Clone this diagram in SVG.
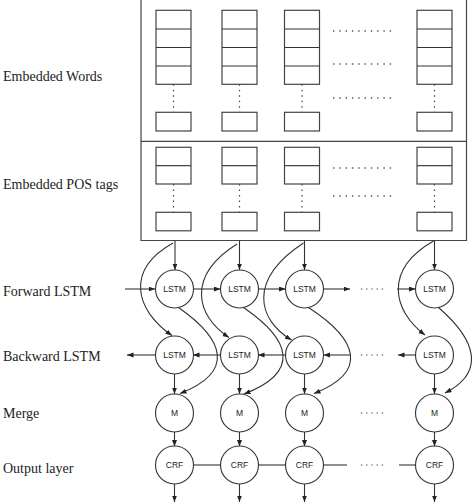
<svg xmlns="http://www.w3.org/2000/svg" width="474" height="504" viewBox="0 0 474 504">
<style>
.ln{fill:none;stroke:#333;stroke-width:1.1}
.cell{fill:#fff;stroke:#444;stroke-width:1.2}
.dv{fill:none;stroke:#444;stroke-width:1.2;stroke-dasharray:1.5 4}
.dh{fill:none;stroke:#555;stroke-width:1.4;stroke-dasharray:1.4 4.9}
.dr{fill:none;stroke:#777;stroke-width:1.3;stroke-dasharray:1.2 4}
.nd{fill:#fff;stroke:#333;stroke-width:1.1}
.nt{font-family:"Liberation Sans",Arial,sans-serif;font-size:8.5px;fill:#222;text-anchor:middle}
.lb{font-family:"Liberation Serif","Times New Roman",serif;font-size:14px;fill:#222}
.ar{fill:none;stroke:#333;stroke-width:1.1;marker-end:url(#ah)}
</style>
<defs>
<marker id="ah" markerUnits="userSpaceOnUse" markerWidth="7" markerHeight="6" refX="6.5" refY="2.5" orient="auto">
<path d="M0,0 L6.5,2.5 L0,5 z" fill="#222"/>
</marker>
</defs>

<g id="labels">
<text class="lb" x="3" y="81">Embedded Words</text>
<text class="lb" x="3" y="188.5">Embedded POS tags</text>
<text class="lb" x="3" y="296">Forward LSTM</text>
<text class="lb" x="3" y="361">Backward LSTM</text>
<text class="lb" x="3" y="418">Merge</text>
<text class="lb" x="3" y="472.5">Output layer</text>
</g>

<g id="embedding-box">
<line x1="141" y1="0.6" x2="466.5" y2="0.6" stroke="#ccc" stroke-width="1.2"/>
<path d="M141,0 V240.5 H466.5 V0" class="cell" fill="none"/>
<line x1="141" y1="141.3" x2="466.5" y2="141.3" stroke="#444" stroke-width="1.2"/>
</g>

<g id="word-vectors">
<g id="word-col1">
<rect class="cell" x="156" y="10.3" width="35" height="74"/>
<path class="ln" d="M156,29 H191 M156,47.5 H191 M156,66 H191" stroke="#444" stroke-width="1.2"/>
<line class="dv" x1="173.5" y1="84.3" x2="173.5" y2="112.3"/>
<rect class="cell" x="156" y="112.3" width="35" height="18.7"/>
</g>
<g id="word-col2">
<rect class="cell" x="222" y="10.3" width="35" height="74"/>
<path class="ln" d="M222,29 H257 M222,47.5 H257 M222,66 H257" stroke="#444" stroke-width="1.2"/>
<line class="dv" x1="239.5" y1="84.3" x2="239.5" y2="112.3"/>
<rect class="cell" x="222" y="112.3" width="35" height="18.7"/>
</g>
<g id="word-col3">
<rect class="cell" x="284.5" y="10.3" width="35" height="74"/>
<path class="ln" d="M284.5,29 H319.5 M284.5,47.5 H319.5 M284.5,66 H319.5" stroke="#444" stroke-width="1.2"/>
<line class="dv" x1="302" y1="84.3" x2="302" y2="112.3"/>
<rect class="cell" x="284.5" y="112.3" width="35" height="18.7"/>
</g>
<g id="word-col4">
<rect class="cell" x="417" y="10.3" width="35" height="74"/>
<path class="ln" d="M417,29 H452 M417,47.5 H452 M417,66 H452" stroke="#444" stroke-width="1.2"/>
<line class="dv" x1="434.5" y1="84.3" x2="434.5" y2="112.3"/>
<rect class="cell" x="417" y="112.3" width="35" height="18.7"/>
</g>
<line class="dh" x1="333" y1="31" x2="396" y2="31"/>
<line class="dh" x1="333" y1="64" x2="396" y2="64"/>
<line class="dh" x1="333" y1="98" x2="396" y2="98"/>
</g>

<g id="pos-vectors">
<g id="pos-col1">
<rect class="cell" x="156" y="147.3" width="35" height="36.7"/>
<line x1="156" y1="165.7" x2="191" y2="165.7" stroke="#444" stroke-width="1.2"/>
<line class="dv" x1="173.5" y1="184" x2="173.5" y2="212.3"/>
<rect class="cell" x="156" y="212.3" width="35" height="18.5"/>
</g>
<g id="pos-col2">
<rect class="cell" x="222" y="147.3" width="35" height="36.7"/>
<line x1="222" y1="165.7" x2="257" y2="165.7" stroke="#444" stroke-width="1.2"/>
<line class="dv" x1="239.5" y1="184" x2="239.5" y2="212.3"/>
<rect class="cell" x="222" y="212.3" width="35" height="18.5"/>
</g>
<g id="pos-col3">
<rect class="cell" x="284.5" y="147.3" width="35" height="36.7"/>
<line x1="284.5" y1="165.7" x2="319.5" y2="165.7" stroke="#444" stroke-width="1.2"/>
<line class="dv" x1="302" y1="184" x2="302" y2="212.3"/>
<rect class="cell" x="284.5" y="212.3" width="35" height="18.5"/>
</g>
<g id="pos-col4">
<rect class="cell" x="417" y="147.3" width="35" height="36.7"/>
<line x1="417" y1="165.7" x2="452" y2="165.7" stroke="#444" stroke-width="1.2"/>
<line class="dv" x1="434.5" y1="184" x2="434.5" y2="212.3"/>
<rect class="cell" x="417" y="212.3" width="35" height="18.5"/>
</g>
<line class="dh" x1="333" y1="168" x2="396" y2="168"/>
<line class="dh" x1="333" y1="196" x2="396" y2="196"/>
</g>

<g id="connectors">
<!-- box to forward LSTM -->
<line class="ar" x1="175" y1="240.5" x2="175" y2="270"/>
<line class="ar" x1="239.5" y1="240.5" x2="239.5" y2="270"/>
<line class="ar" x1="304.5" y1="240.5" x2="304.5" y2="270"/>
<line class="ar" x1="434.5" y1="240.5" x2="434.5" y2="270"/>
<!-- box to backward LSTM (S curves) -->
<path class="ar" d="M173,243 C125,270 135,310 172,335.5"/>
<path class="ar" d="M237,244 C186,276 196,316 229,337.5"/>
<path class="ar" d="M303.5,243 C247,280 258,320 291.5,340"/>
<path class="ar" d="M433.5,241 C383,270 393,311 425,335"/>
<!-- forward LSTM to merge (S curves) -->
<path class="ar" d="M178.5,307.5 C225,340 235,372 180,393.5"/>
<path class="ar" d="M243.5,307.5 C291,340 301,372 244,394"/>
<path class="ar" d="M308.5,307.5 C358.5,340 368.5,372 314,393.5"/>
<path class="ar" d="M438.5,307.5 C476,340 486,372 445,393"/>
<!-- forward chain -->
<line class="ar" x1="125" y1="289" x2="155" y2="289"/>
<line class="ar" x1="193" y1="289" x2="220.5" y2="289"/>
<line class="ar" x1="258" y1="289" x2="285.5" y2="289"/>
<line class="ar" x1="323" y1="289" x2="350" y2="289"/>
<line class="dr" x1="361" y1="289" x2="384" y2="289"/>
<line class="ar" x1="397" y1="289" x2="415.5" y2="289"/>
<!-- backward chain -->
<line class="ar" x1="155" y1="355" x2="127" y2="355"/>
<line class="ar" x1="220.5" y1="355" x2="193" y2="355"/>
<line class="ar" x1="285.5" y1="355" x2="258" y2="355"/>
<line class="ar" x1="350" y1="355" x2="323.5" y2="355"/>
<line class="dr" x1="361" y1="355" x2="384" y2="355"/>
<line class="ar" x1="415.5" y1="355" x2="398" y2="355"/>
<!-- backward to merge -->
<line class="ar" x1="174.5" y1="374" x2="174.5" y2="394"/>
<line class="ar" x1="239.5" y1="374" x2="239.5" y2="394"/>
<line class="ar" x1="304.5" y1="374" x2="304.5" y2="394"/>
<line class="ar" x1="434.5" y1="374" x2="434.5" y2="394"/>
<line class="dr" x1="361" y1="413" x2="384" y2="413"/>
<!-- merge to CRF -->
<line class="ar" x1="174.5" y1="432" x2="174.5" y2="446.5"/>
<line class="ar" x1="239.5" y1="432" x2="239.5" y2="446.5"/>
<line class="ar" x1="304.5" y1="432" x2="304.5" y2="446.5"/>
<line class="ar" x1="434.5" y1="432" x2="434.5" y2="446.5"/>
<!-- CRF chain -->
<line class="ln" x1="193" y1="465" x2="220.5" y2="465"/>
<line class="ln" x1="258" y1="465" x2="285.5" y2="465"/>
<line class="ln" x1="323" y1="465" x2="347" y2="465"/>
<line class="dr" x1="361" y1="465" x2="384" y2="465"/>
<line class="ln" x1="399" y1="465" x2="415.5" y2="465"/>
<!-- CRF outputs -->
<line class="ar" x1="174.5" y1="484" x2="174.5" y2="502"/>
<line class="ar" x1="239.5" y1="484" x2="239.5" y2="502"/>
<line class="ar" x1="304.5" y1="484" x2="304.5" y2="502"/>
<line class="ar" x1="434.5" y1="484" x2="434.5" y2="502"/>
</g>

<g id="fwd1"><circle class="nd" cx="174.5" cy="289" r="19"/><text class="nt" x="174.5" y="292">LSTM</text></g>
<g id="fwd2"><circle class="nd" cx="239.5" cy="289" r="19"/><text class="nt" x="239.5" y="292">LSTM</text></g>
<g id="fwd3"><circle class="nd" cx="304.5" cy="289" r="19"/><text class="nt" x="304.5" y="292">LSTM</text></g>
<g id="fwd4"><circle class="nd" cx="434.5" cy="289" r="19"/><text class="nt" x="434.5" y="292">LSTM</text></g>

<g id="bwd1"><circle class="nd" cx="174.5" cy="355" r="19"/><text class="nt" x="174.5" y="358">LSTM</text></g>
<g id="bwd2"><circle class="nd" cx="239.5" cy="355" r="19"/><text class="nt" x="239.5" y="358">LSTM</text></g>
<g id="bwd3"><circle class="nd" cx="304.5" cy="355" r="19"/><text class="nt" x="304.5" y="358">LSTM</text></g>
<g id="bwd4"><circle class="nd" cx="434.5" cy="355" r="19"/><text class="nt" x="434.5" y="358">LSTM</text></g>

<g id="merge1"><circle class="nd" cx="174.5" cy="413" r="19"/><text class="nt" x="174.5" y="416">M</text></g>
<g id="merge2"><circle class="nd" cx="239.5" cy="413" r="19"/><text class="nt" x="239.5" y="416">M</text></g>
<g id="merge3"><circle class="nd" cx="304.5" cy="413" r="19"/><text class="nt" x="304.5" y="416">M</text></g>
<g id="merge4"><circle class="nd" cx="434.5" cy="413" r="19"/><text class="nt" x="434.5" y="416">M</text></g>

<g id="crf1"><circle class="nd" cx="174.5" cy="465" r="19"/><text class="nt" x="174.5" y="468">CRF</text></g>
<g id="crf2"><circle class="nd" cx="239.5" cy="465" r="19"/><text class="nt" x="239.5" y="468">CRF</text></g>
<g id="crf3"><circle class="nd" cx="304.5" cy="465" r="19"/><text class="nt" x="304.5" y="468">CRF</text></g>
<g id="crf4"><circle class="nd" cx="434.5" cy="465" r="19"/><text class="nt" x="434.5" y="468">CRF</text></g>
</svg>
